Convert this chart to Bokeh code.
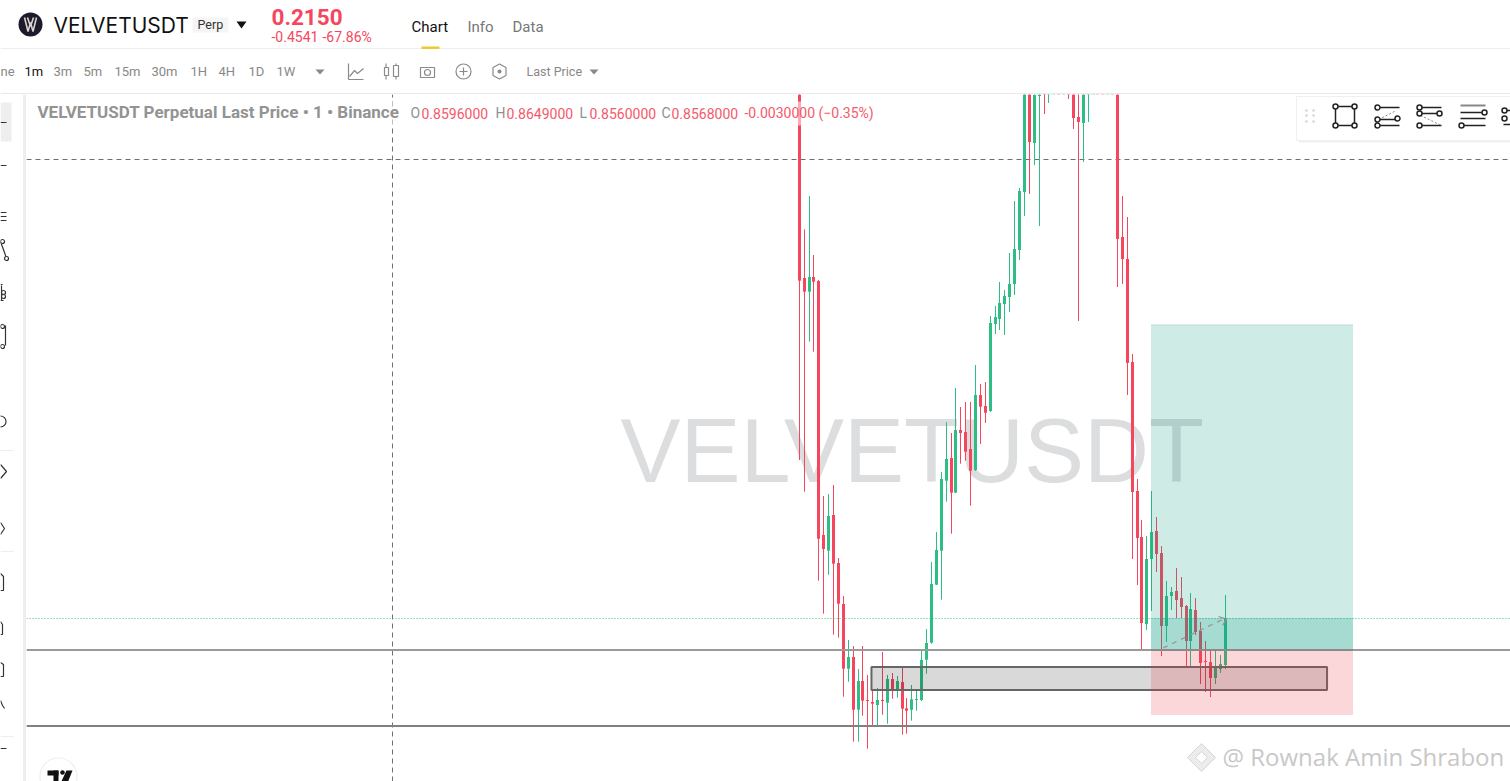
import math
from bokeh.plotting import figure
from bokeh.layouts import column, row
from bokeh.models import Range1d, ColumnDataSource
from bokeh.core.properties import value
from bokeh.embed import file_html
from bokeh.resources import INLINE

# ---------- data: one-minute candles ----------
opens = [.773,.555,.5413,.556,.552,.298,.2823,.318,.27,.229,.1643,.176,.1233,.152,.133,.131,.128,.133,.1303,.154,.1437,.151,.1247,.1233,.133,.133,.1733,.1903,.2483,.2823,.3523,.375,.3403,.403,.401,.384,.363,.438,.427,.422,.509,.514,.529,.536,.549,.583,.641,.773,.69,.737,.78,.75,.785,.81,.785,.80,.77,.716,.71,.752,.79,.77,.80,.775,.795,.763,.596,.574,.471,.342,.296,.209,.274,.302,.28,.207,.237,.242,.235,.227,.192,.223,.202,.172,.171,.155,.164,.168]
highs = [.793,.6037,.637,.578,.553,.337,.339,.348,.275,.237,.193,.187,.164,.187,.158,.143,.145,.181,.158,.16,.157,.166,.135,.148,.1423,.1823,.204,.271,.301,.361,.411,.4,.445,.426,.431,.431,.468,.449,.451,.517,.527,.551,.543,.58,.632,.645,.778,.788,.74,.763,.80,.80,.83,.835,.82,.815,.79,.773,.778,.81,.82,.81,.83,.815,.82,.775,.637,.616,.479,.354,.313,.297,.342,.316,.287,.252,.246,.265,.256,.228,.24,.235,.211,.192,.182,.182,.178,.238]
lows = [.373,.3413,.4913,.4813,.2523,.2193,.2583,.1983,.1953,.1363,.1513,.0913,.0913,.1173,.0843,.108,.108,.1183,.1093,.1343,.1353,.0983,.0993,.1123,.1223,.132,.1593,.1893,.248,.2333,.3313,.2993,.34,.3693,.3723,.3273,.362,.389,.41,.421,.499,.503,.498,.521,.538,.573,.617,.639,.668,.607,.719,.73,.76,.775,.76,.734,.704,.512,.671,.711,.76,.755,.765,.76,.76,.546,.549,.438,.274,.248,.184,.203,.222,.261,.177,.191,.223,.215,.215,.167,.167,.198,.149,.141,.136,.149,.16,.164]
closes = [.5523,.5413,.556,.5513,.2943,.284,.317,.2693,.2293,.1643,.176,.1233,.152,.1323,.132,.1293,.133,.132,.154,.1437,.152,.1243,.1223,.1337,.134,.173,.19,.249,.283,.354,.374,.3403,.403,.4,.3813,.3623,.438,.4263,.4203,.51,.516,.53,.537,.549,.584,.642,.763,.691,.738,.743,.748,.785,.81,.785,.80,.765,.715,.711,.763,.79,.77,.80,.775,.795,.77,.594,.574,.47,.341,.295,.21,.274,.301,.279,.207,.237,.241,.233,.226,.192,.224,.201,.17,.171,.155,.165,.169,.215]

# trade levels and crosshair
last_price = 0.215
level_upper = 0.183
level_lower = 0.107
target_price = 0.508
stop_price = 0.118
zone_top = 0.166
zone_bottom = 0.143
zone_start, zone_end = 14.65, 107.7
trade_start, trade_end = 71.75, 113.0
move_from = (74.2, 0.185)
move_to = (87.0, 0.215)
cross_price = 0.674
cross_bar = -83.18

GREEN, RED = "#2ebd85", "#f6465d"

# ---------- layout constants (page pixels) ----------
LEFT, TOP, RIGHT, BOTTOM = 0, 0, 1510, 781
CHART_L, CHART_T = 26, 94
BAR_PX, BAR0_PX = 4.896, 799.25
PRICE_PX = 1000.0
PRICE0_PX = 832.5   # the SVG canvas draws half a pixel down and right
HALF_PRICE = 0.5 / PRICE_PX

# bars sit on whole device pixels, as on the charting canvas
bar_x = [(math.floor(BAR0_PX + i * BAR_PX) - BAR0_PX) / BAR_PX for i in range(len(opens))]


def styled(**kw):
    f = figure(output_backend="svg", toolbar_location=None, tools="",
               min_border=0, background_fill_color="white", border_fill_color="white", **kw)
    f.axis.visible = False
    f.grid.visible = False
    f.outline_line_color = None
    return f


def put_text(f, x, y, s, size, color, font="Roboto", style="normal", align="left", **kw):
    # y is the text's baseline on the page
    f.text([x], [y - 0.34 * size], text=[s], text_font=value(font), text_font_size=f"{size}px", text_color=color,
           text_font_style=style, text_align=align, text_baseline="alphabetic", **kw)


# ---------- header ----------
h = styled(width=RIGHT - LEFT, height=CHART_T - TOP,
           x_range=Range1d(LEFT, RIGHT), y_range=Range1d(CHART_T, TOP))
h.segment([LEFT], [48], [RIGHT], [48], line_color="#eeeeee", line_width=1)
h.segment([LEFT], [93], [RIGHT], [93], line_color="#e9e9e9", line_width=1)
h.circle([30], [24], radius=12, fill_color="#1d1b2b", line_color=None)
h.multi_line([[24, 27.5, 30, 32.5, 36], [27, 30, 33]], [[17, 31, 22, 31, 17], [17, 26, 17]],
             line_color="#d8d2cf", line_width=1.6)
put_text(h, 53, 32, "VELVETUSDT", 21, "#111111", font="Inter")
h.quad(left=[192], right=[228], top=[17], bottom=[32], fill_color="#f5f5f5", line_color=None)
put_text(h, 197, 28, "Perp", 12.5, "#333333")
h.patch([236, 246, 241], [21, 21, 28], fill_color="#111111", line_color=None)
put_text(h, 271, 24, "0.2150", 22.5, "#f6465d", style="bold")
put_text(h, 271, 41, "-0.4541", 14, "#f6465d")
put_text(h, 322, 41, "-67.86%", 14, "#f6465d")
put_text(h, 411, 32, "Chart", 15, "#111111")
put_text(h, 467, 32, "Info", 15, "#777777")
put_text(h, 512, 32, "Data", 15, "#777777")
h.quad(left=[421], right=[439], top=[46], bottom=[48.5], fill_color="#f0c92e", line_color=None)
for tx, s_, c_ in [(0, "ne", "#888888"), (24, "1m", "#111111"), (53, "3m", "#888888"), (83, "5m", "#888888"),
                   (114, "15m", "#888888"), (151, "30m", "#888888"), (190, "1H", "#888888"),
                   (218, "4H", "#888888"), (248, "1D", "#888888"), (276, "1W", "#888888")]:
    put_text(h, tx, 75, s_, 13, c_)
put_text(h, 526, 75, "Last Price", 12.5, "#888888")
h.patch([315, 324, 319.5], [69, 69, 74], fill_color="#888888", line_color=None)
h.patch([589, 598, 593.5], [69, 69, 74], fill_color="#888888", line_color=None)
ICON = dict(line_color="#8a8a8a", line_width=1.2)
h.multi_line([[348, 348, 363], [349, 354, 357, 363]], [[63, 79, 79], [76, 70, 73, 68]], **ICON)
h.segment([385.5, 395.5], [63, 63], [385.5, 395.5], [79, 79], **ICON)
h.quad(left=[384, 393], right=[388, 398], top=[67, 65], bottom=[75, 76], fill_color="white", **ICON)
h.quad(left=[420], right=[434], top=[67], bottom=[77], fill_color="white", **ICON)
h.circle([427], [72], radius=3, fill_color="white", **ICON)
h.circle([463], [71], radius=7.5, fill_color="white", **ICON)
h.segment([459, 463], [71, 67], [467, 463], [71, 75], **ICON)
h.patch([499, 505.5, 505.5, 499, 492.5, 492.5], [63.5, 67, 75, 78.5, 75, 67], fill_color="white", **ICON)
h.circle([499], [71], radius=2, fill_color="#8a8a8a", line_color=None)

# ---------- left tool strip ----------
s = styled(width=CHART_L - LEFT, height=BOTTOM - CHART_T,
           x_range=Range1d(LEFT, CHART_L), y_range=Range1d(BOTTOM, CHART_T))
s.quad(left=[22.5], right=[26], top=[CHART_T], bottom=[BOTTOM], fill_color="#eeeeee", line_color=None)
s.quad(left=[LEFT], right=[11], top=[102], bottom=[141], fill_color="#eeeeee", line_color=None)
s.segment([LEFT] * 3, [450, 551, 736], [13] * 3, [450, 551, 736], line_color="#eeeeee", line_width=1)
TOOL = dict(line_color="#333333", line_width=1.2)
s.multi_line([[0, 6], [0, 6], [0, 6], [0, 6], [0, 6], [0, 2], [0, 3]],
             [[122, 122], [165, 165], [212, 212], [216, 216], [220, 220], [284, 284], [300, 300]], **TOOL)
s.multi_line([[0, 4, 6], [5, 5], [1, 1], [0, 6, 0], [0, 4, 0], [0, 4], [2, 6]],
             [[241, 252, 258], [325, 345], [285, 300], [464, 471, 478], [522, 528, 534], [748, 748], [748, 748]], **TOOL)
s.circle([2, 6, 3, 3, 2, 2], [241, 258, 292, 296, 326, 346], radius=2, fill_color="white", **TOOL)
s.circle([0], [421], radius=5.5, fill_color="white", **TOOL)
s.multi_line([[0, 3, 3, 0], [0, 2, 2, 0], [0, 3, 3, 0], [0, 2, 4]],
             [[573, 576, 590, 590], [621, 624, 634, 634], [662, 664, 676, 676], [700, 705, 708]], **TOOL)

# ---------- chart ----------
x_lo = (CHART_L - BAR0_PX) / BAR_PX
x_hi = (RIGHT - BAR0_PX) / BAR_PX
y_lo = (PRICE0_PX - BOTTOM) / PRICE_PX
y_hi = (PRICE0_PX - CHART_T) / PRICE_PX
p = styled(width=RIGHT - CHART_L, height=BOTTOM - CHART_T,
           x_range=Range1d(x_lo, x_hi), y_range=Range1d(y_lo, y_hi))
p.extra_x_ranges["px"] = Range1d(CHART_L, RIGHT)
p.extra_y_ranges["px"] = Range1d(BOTTOM, CHART_T)
PX = dict(x_range_name="px", y_range_name="px")

put_text(p, 620, 481, "VELVETUSDT", 90, "#dcddde", font="Liberation Sans", **PX)

# crosshair
p.segment([x_lo], [cross_price - HALF_PRICE], [x_hi], [cross_price - HALF_PRICE],
          line_color="#6f6f6f", line_width=1, line_dash="5 4")
p.segment([cross_bar], [y_lo], [cross_bar], [y_hi], line_color="#6f6f6f", line_width=1, line_dash="5 4")

# candles
colors = [GREEN if c >= o else RED for o, c in zip(opens, closes)]
src = ColumnDataSource(dict(x=bar_x, o=opens, h=highs, l=lows, c=closes, color=colors,
                            top=[max(a, b) for a, b in zip(opens, closes)],
                            bottom=[min(a, b) for a, b in zip(opens, closes)]))
p.segment("x", "h", "x", "l", source=src, line_color="color", line_width=1)
p.vbar("x", 3 / BAR_PX, "top", "bottom", source=src, fill_color="color", line_color=None)

# price lines
p.segment([x_lo], [last_price - HALF_PRICE], [x_hi], [last_price - HALF_PRICE],
          line_color="#2ebd85", line_width=1, line_dash="1 2")
p.segment([x_lo], [level_upper], [x_hi], [level_upper], line_color="#9a9a9a", line_width=2)
p.segment([x_lo], [level_lower], [x_hi], [level_lower], line_color="#808080", line_width=2)

# drawn zone
p.quad(left=[zone_start], right=[zone_end], top=[zone_top], bottom=[zone_bottom],
       fill_color="#000000", fill_alpha=0.15, line_color="#666666", line_width=2)

# long position tool
p.quad(left=[trade_start], right=[trade_end], top=[target_price], bottom=[level_upper],
       fill_color="#089981", fill_alpha=0.2, line_color=None)
p.quad(left=[trade_start], right=[trade_end], top=[last_price], bottom=[level_upper],
       fill_color="#089981", fill_alpha=0.2, line_color=None)
p.quad(left=[trade_start], right=[trade_end], top=[level_upper], bottom=[stop_price],
       fill_color="#f23645", fill_alpha=0.2, line_color=None)
p.segment([trade_start], [target_price], [trade_end], [target_price], line_color="#b5ddd5", line_width=1)
p.segment([trade_start], [level_upper], [trade_end], [level_upper], line_color="#8a8a8a", line_width=2)
p.segment([move_from[0]], [move_from[1]], [move_to[0]], [move_to[1]], line_color="#9a8f92", line_width=1.2,
          line_dash="5 5")
p.multi_line([[1218, 1226, 1222]], [[616, 618.5, 625]], line_color="#9a8f92", line_width=1.2, **PX)

# legend row
p.quad(left=[CHART_L + 4], right=[880], top=[101], bottom=[125], fill_color="white", fill_alpha=0.55,
       line_color=None, **PX)
put_text(p, 37, 117.5, "VELVETUSDT Perpetual Last Price • 1 • Binance", 17, "#939393", style="bold", **PX)
LEG_RED = "#f4596b"
for lx, s_, c_ in [(410, "O", "#8f8f8f"), (421, "0.8596000", LEG_RED), (495, "H", "#8f8f8f"), (506, "0.8649000", LEG_RED),
                   (579, "L", "#8f8f8f"), (589, "0.8560000", LEG_RED), (661, "C", "#8f8f8f"), (671, "0.8568000", LEG_RED),
                   (744, "-0.0030000 (−0.35%)", LEG_RED)]:
    put_text(p, lx, 117.5, s_, 14, c_, **PX)

# floating drawing toolbar
p.quad(left=[1298], right=[RIGHT + 2], top=[98], bottom=[142], fill_color="#000000", fill_alpha=0.06,
       line_color=None, **PX)
p.quad(left=[1296], right=[RIGHT + 2], top=[96], bottom=[140], fill_color="white", line_color="#f0f0f0", **PX)
DARK = dict(line_color="#222222", line_width=1.5)
p.scatter([1306, 1313] * 3, [110, 110, 115, 115, 121, 121], size=2, marker="square", fill_color="#cccccc",
          line_color=None, **PX)
p.multi_line([[1335, 1354, 1354, 1335, 1335]], [[106, 106, 125, 125, 106]], **DARK, **PX)
p.circle([1335, 1354, 1335, 1354], [106, 106, 125, 125], radius=2.5, fill_color="white", **DARK, **PX)
p.segment([1377, 1377, 1377], [107, 119, 125], [1399, 1399, 1399], [107, 119, 125], **DARK, **PX)
p.segment([1378], [119], [1396], [110], line_color="#888888", line_width=1, line_dash="2 2", **PX)
p.circle([1377, 1377, 1397, 1377], [107, 119, 118, 125], radius=2.5, fill_color="white", **DARK, **PX)
p.segment([1419, 1419, 1419], [107, 113, 125], [1441, 1441, 1441], [107, 113, 125], **DARK, **PX)
p.segment([1420], [115], [1441], [125], line_color="#888888", line_width=1, line_dash="2 2", **PX)
p.circle([1419, 1419, 1439, 1419], [107, 113, 113, 125], radius=2.5, fill_color="white", **DARK, **PX)
p.segment([1460], [105], [1485], [105], line_color="#888888", line_width=2, **PX)
p.segment([1460, 1460, 1460], [112, 118, 125], [1485, 1485, 1485], [112, 118, 125], **DARK, **PX)
p.circle([1484, 1461], [112, 125], radius=2.5, fill_color="white", **DARK, **PX)
p.segment([1503, 1503], [110, 124], [1512, 1512], [110, 124], **DARK, **PX)
p.circle([1504, 1504], [110, 118], radius=2.5, fill_color="white", **DARK, **PX)

# TradingView badge
p.circle([58], [776], radius=18.5, fill_color="white", line_color="#eeeeee", line_width=1.2, **PX)
p.quad(left=[47, 53], right=[58, 58], top=[770, 770], bottom=[775, 785], fill_color="#111111", line_color=None, **PX)
p.patch([66, 72, 66, 59], [770, 770, 785, 785], fill_color="#111111", line_color=None, **PX)
p.circle([62], [772], radius=2.3, fill_color="#111111", line_color=None, **PX)

# author watermark
p.patch([1201, 1215, 1201, 1187], [743, 757, 771, 757], fill_color="#ececec", line_color="#d5d5d5", line_width=1, **PX)
p.patch([1201, 1207, 1201, 1195], [751, 757, 763, 757], fill_color="white", line_color="#d5d5d5", line_width=1, **PX)
put_text(p, 1222, 764, "@ Rownak Amin Shrabon", 24, "#c8c8c8", font="Open Sans", **PX)

layout = column(h, row(s, p, spacing=0), spacing=0)
open("out.html", "w").write(file_html(layout, INLINE))
